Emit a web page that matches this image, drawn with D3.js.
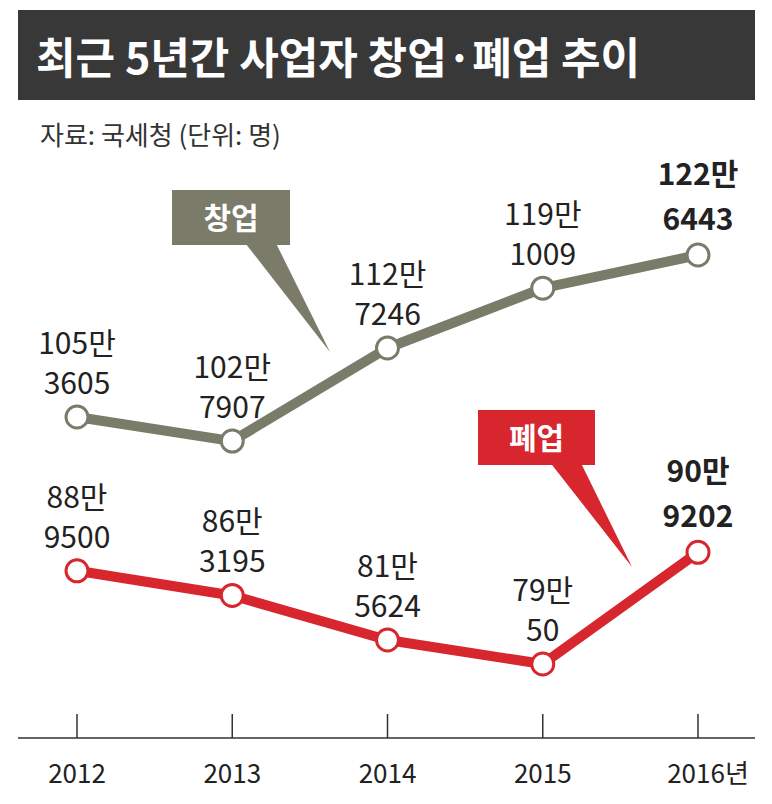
<!DOCTYPE html>
<html><head><meta charset="utf-8">
<script src="https://cdn.jsdelivr.net/npm/d3@7"></script>
<style>body{margin:0;background:#fff}text{font-family:"Noto Sans CJK KR","Noto Sans",sans-serif}</style>
</head><body><svg id="c" width="772" height="804"></svg>
<script>
const years=["2012","2013","2014","2015","2016"];
const yearLabels=["2012","2013","2014","2015","2016년"];
const startups=[1053605,1027907,1127246,1191009,1226443];
const closures=[889500,863195,815624,790050,909202];
const startupLabels=[["105만","3605"],["102만","7907"],["112만","7246"],["119만","1009"],["122만","6443"]];
const closureLabels=[["88만","9500"],["86만","3195"],["81만","5624"],["79만","50"],["90만","9202"]];

const svg=d3.select("#c");
const x=d3.scalePoint().domain(years).range([77,698]);
const y=d3.scaleLinear().domain([790050,1226443]).range([664,255]);
const gray="#7b7b69", red="#d7262e";

svg.append("rect").attr("x",18).attr("y",10).attr("width",737).attr("height",90).attr("fill","#383838");
svg.append("text").attr("x",36).attr("y",74).attr("fill","#fff").attr("font-size",43).attr("font-weight",700).text("최근 5년간 사업자 창업·폐업 추이");
svg.append("text").attr("x",40).attr("y",145).attr("fill","#333").attr("font-size",26).text("자료: 국세청 (단위: 명)");

svg.append("line").attr("x1",18).attr("x2",755).attr("y1",738).attr("y2",738).attr("stroke","#333").attr("stroke-width",1.5);
years.forEach((yr,i)=>{
  svg.append("line").attr("x1",x(yr)).attr("x2",x(yr)).attr("y1",714).attr("y2",738).attr("stroke","#333").attr("stroke-width",1.5);
  svg.append("text").attr("x",x(yr)+(i==4?10:0)).attr("y",783).attr("text-anchor","middle").attr("font-size",26).attr("fill","#222").text(yearLabels[i]);
});

function callout(bx,by,w,h,tip,col,label){
  svg.append("path").attr("d",`M${bx+w*0.62},${by+h-2} L${bx+w*0.88},${by+h-2} L${tip[0]},${tip[1]} Z`).attr("fill",col);
  svg.append("rect").attr("x",bx).attr("y",by).attr("width",w).attr("height",h).attr("fill",col);
  svg.append("text").attr("x",bx+w/2).attr("y",by+h/2+11).attr("text-anchor","middle").attr("fill","#fff").attr("font-size",30).attr("font-weight",700).text(label);
}
callout(172,190,118,55,[330,352],gray,"창업");
callout(478,410,117,55,[632,567],red,"폐업");

function series(vals,col,labels){
  const line=d3.line().x((d,i)=>x(years[i])).y(d=>y(d));
  svg.append("path").attr("d",line(vals)).attr("fill","none").attr("stroke",col).attr("stroke-width",10).attr("stroke-linejoin","round");
  vals.forEach((v,i)=>{
    svg.append("circle").attr("cx",x(years[i])).attr("cy",y(v)).attr("r",11).attr("fill","#fff").attr("stroke",col).attr("stroke-width",3);
    const b=i==4;
    const g=svg.append("text").attr("text-anchor","middle").attr("font-size",30).attr("fill","#222").attr("font-weight",b?700:400);
    g.append("tspan").attr("x",x(years[i])).attr("y",y(v)-(b?70:63)).text(labels[i][0]);
    g.append("tspan").attr("x",x(years[i])).attr("y",y(v)-(b?25:23)).text(labels[i][1]);
  });
}
series(startups,gray,startupLabels);
series(closures,red,closureLabels);
</script></body></html>
